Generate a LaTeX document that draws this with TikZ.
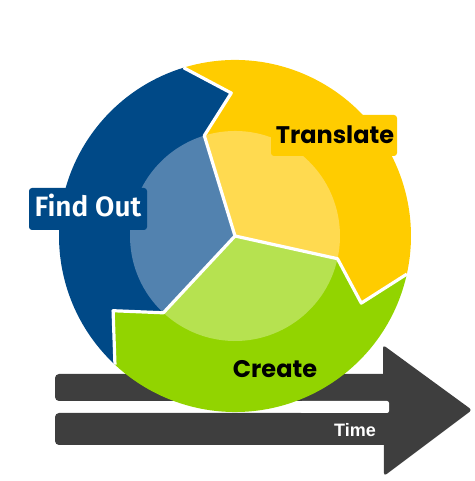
\documentclass[tikz,border=0pt]{standalone}
\usepackage{fontspec}
\setmainfont{Fira Sans}
\newfontfamily\popfont{Poppins}
\newfontfamily\firasb{Fira Sans SemiBold}
\newfontfamily\timefont{Liberation Sans}
\definecolor{bluedark}{RGB}{0,73,135}
\definecolor{bluelight}{RGB}{82,130,175}
\definecolor{yellowdark}{RGB}{255,204,0}
\definecolor{yellowlight}{RGB}{255,218,80}
\definecolor{greendark}{RGB}{146,212,0}
\definecolor{greenlight}{RGB}{182,226,80}
\definecolor{arrowgray}{RGB}{62,62,62}
\tikzset{
  sepline/.style={white, line width=3.2pt, line join=round},
  labelbox/.style={rounded corners=3pt, inner sep=0pt},
  phasetext/.style={font=\popfont\bfseries\fontsize{24}{30}\selectfont, text=black, inner sep=0pt, anchor=base},
}
\newcommand{\ringseg}[4]{%
  \fill[#3] (0,0) -- (#1:105) -- ({#1-15.5}:143) -- (#1:176)
     arc[start angle=#1, end angle=#2, radius=176]
     -- ({#2-15.5}:143) -- (#2:105) -- cycle;
  \fill[#4] (0,0) -- (#1:105) arc[start angle=#1, end angle=#2, radius=105] -- cycle;
}
\begin{document}
\begin{tikzpicture}[x=1pt,y=1pt]
\useasboundingbox (0,0) rectangle (474,481);
% time arrow
\fill[arrowgray, rounded corners=4pt] (55,80) rectangle (390,107);
\fill[arrowgray, rounded corners=4pt] (55,36) rectangle (390,68);
\fill[arrowgray, rounded corners=3pt] (383,136) -- (472,71) -- (384,5) -- cycle;
\fill[white, rounded corners=2pt] (300,68) rectangle (389,80);
% cycle
\begin{scope}[shift={(235,245)}]
  \ringseg{227}{107}{bluedark}{bluelight}
  \ringseg{107}{-12.5}{yellowdark}{yellowlight}
  \ringseg{347.5}{227}{greendark}{greenlight}
  \coordinate (c) at (0,0);
  \foreach \b in {107,227,347.5}{
    \draw[sepline] (c) -- (\b:105) -- ({\b-15.5}:143) -- (\b:176);
  }
\end{scope}
% labels
\node[labelbox, fill=bluedark, minimum width=118pt, minimum height=42pt] (findbox) at (88,272) {};
\node[font=\firasb\fontsize{28}{32}\selectfont, text=white, inner sep=0pt, anchor=base] (findout) at (88,264) {Find Out};
\node[labelbox, fill=yellowdark, minimum width=126pt, minimum height=41pt] (transbox) at (334,345.5) {};
\node[phasetext] (translate) at (335,337) {Translate};
\node[phasetext] (create) at (275,103) {Create};
\node[font=\timefont\bfseries\fontsize{18}{20}\selectfont, text=white, inner sep=0pt, anchor=base] (time) at (355,44) {Time};
\end{tikzpicture}
\end{document}
